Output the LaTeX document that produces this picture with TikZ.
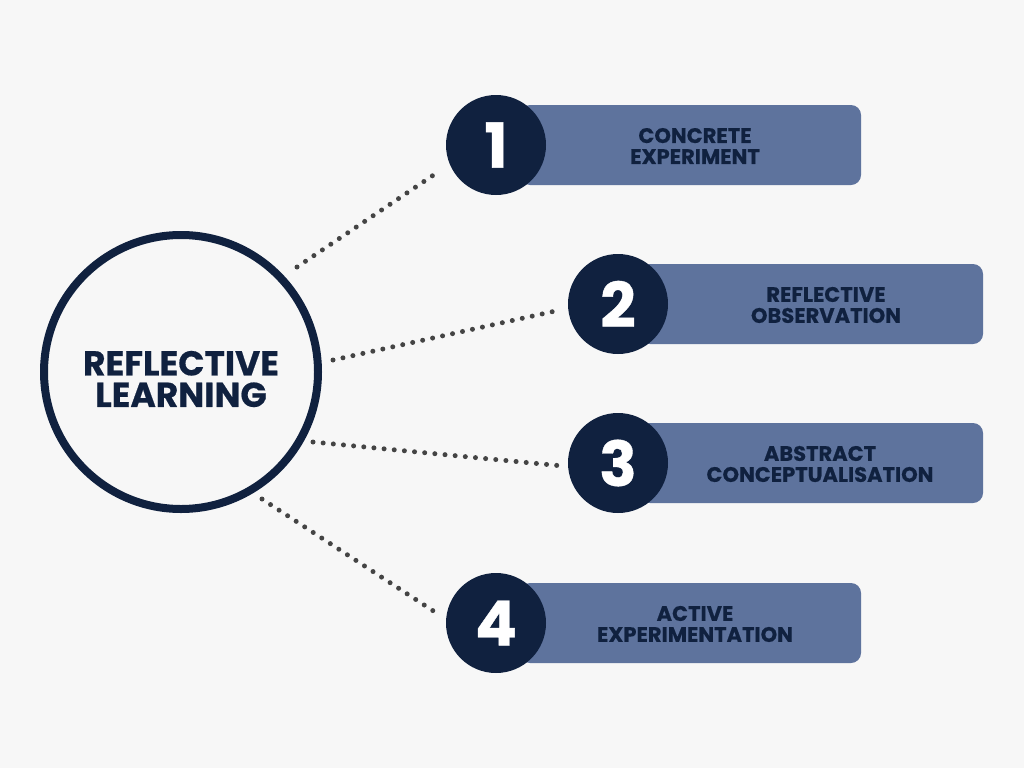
\documentclass[tikz,border=0pt]{standalone}
\usepackage{fontspec}
\setmainfont{Poppins}
\definecolor{bgc}{HTML}{F7F7F7}
\definecolor{navy}{HTML}{10213F}
\definecolor{boxc}{HTML}{5E739D}
\definecolor{dotc}{HTML}{444444}
\begin{document}
\begin{tikzpicture}[x=1pt,y=-1pt,
  numc/.style={circle,fill=navy,minimum size=100pt,inner sep=0pt,text=white,font=\fontsize{62}{62}\selectfont\bfseries\addfontfeature{FakeBold=0.6}},
  band/.style={rounded corners=10pt,fill=boxc,minimum height=80pt,inner sep=0pt},
  lbl/.style={align=center,text=navy,font=\fontsize{21}{21}\selectfont\bfseries\addfontfeature{FakeBold=0.5}},
  dotline/.style={dotc,line width=5pt,line cap=round,dash pattern=on 0pt off 10.2pt}]
\fill[bgc] (0,0) rectangle (1024,768);
\useasboundingbox (0,0) rectangle (1024,768);
% central circle
\node[circle,draw=navy,line width=8pt,fill=bgc,minimum size=274pt,inner sep=0pt] (big) at (181,372) {};
\node[align=center,text=navy,font=\fontsize{34.5}{31.5}\selectfont\bfseries\addfontfeature{FakeBold=0.5}] (bigl) at (181,379) {REFLECTIVE\\LEARNING};
% bands
\node[band,minimum width=341pt] (b1) at (690.5,145) {};
\node[band,minimum width=343pt] (b2) at (811.5,304) {};
\node[band,minimum width=343pt] (b3) at (811.5,463) {};
\node[band,minimum width=341pt] (b4) at (690.5,623) {};
\node[lbl] (t1) at (695,146) {CONCRETE\\EXPERIMENT};
\node[lbl] (t2) at (826,305) {REFLECTIVE\\OBSERVATION};
\node[lbl] (t3) at (820,464) {ABSTRACT\\CONCEPTUALISATION};
\node[lbl] (t4) at (695,624) {ACTIVE\\EXPERIMENTATION};
% number circles
\node[numc] (n1) at (496,145) {1};
\node[numc] (n2) at (618,304) {2};
\node[numc] (n3) at (618,463) {3};
\node[numc] (n4) at (496,623) {4};
% connectors
\coordinate (s1) at (297,267);
\coordinate (s2) at (333,360);
\coordinate (s3) at (313,442);
\coordinate (s4) at (262,499);
\coordinate (e1) at (438,172);
\coordinate (e2) at (560,310);
\coordinate (e3) at (563,466);
\coordinate (e4) at (438,614);
\draw[dotline] (s1) -- (e1);
\draw[dotline] (s2) -- (e2);
\draw[dotline] (s3) -- (e3);
\draw[dotline] (s4) -- (e4);
\end{tikzpicture}
\end{document}
